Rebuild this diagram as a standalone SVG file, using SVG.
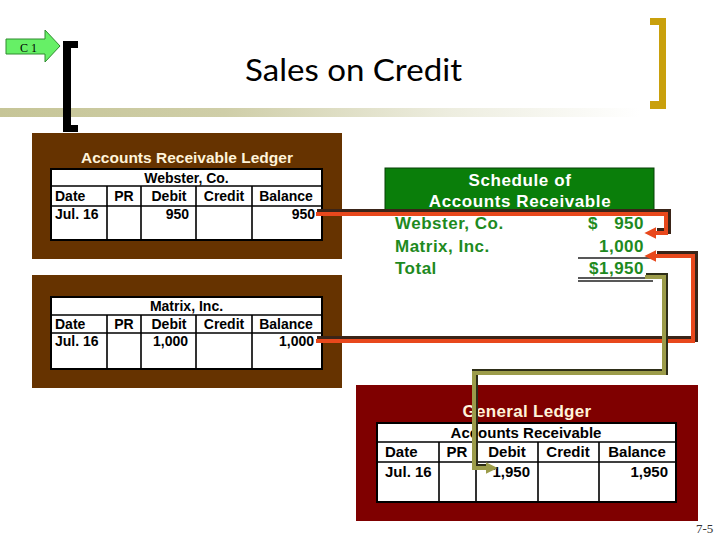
<svg xmlns="http://www.w3.org/2000/svg" width="720" height="540" viewBox="0 0 720 540">
<defs>
<linearGradient id="bar" x1="0" y1="0" x2="1" y2="0">
<stop offset="0" stop-color="#C6C597"/>
<stop offset="0.35" stop-color="#CFCEA8"/>
<stop offset="0.7" stop-color="#EDEDDF"/>
<stop offset="1" stop-color="#FFFFFF"/>
</linearGradient>
<marker id="redHead" viewBox="0 0 10 10" refX="2" refY="5" markerWidth="3" markerHeight="3" orient="auto" markerUnits="strokeWidth">
<path d="M0,0 L10,5 L0,10 z" fill="#E8481C"/>
</marker>
<marker id="oliveHead" viewBox="0 0 10 10" refX="2" refY="5" markerWidth="3" markerHeight="3" orient="auto" markerUnits="strokeWidth">
<path d="M0,0 L10,5 L0,10 z" fill="#9C9C4A"/>
</marker>
<style>
text{font-family:"Liberation Sans",Arial,sans-serif;font-weight:bold}
.tb{font-size:14px;fill:#000}
.gl{font-size:15px;fill:#000}
.cell{fill:#fff;stroke:#000;stroke-width:2}
.ln{stroke:#000;stroke-width:1.6;fill:none}
.hd{fill:#FFF3DA;font-size:15.5px}
.sch{fill:#1E8A1E;font-size:17px;letter-spacing:0.5px}
.schh{fill:#fff;font-size:17px;letter-spacing:0.6px}
.shadow{fill:none;stroke:#3A2418;stroke-width:6}
.red{fill:none;stroke:#E8481C;stroke-width:4}
.olive{fill:none;stroke:#9C9C4A;stroke-width:4}
.oshadow{fill:none;stroke:#2E2E18;stroke-width:6}
</style>
</defs>
<rect width="720" height="540" fill="#fff"/>
<rect x="0" y="108" width="640" height="9" fill="url(#bar)"/>
<g id="c1">
<path d="M6,39 H45 V30 L60,46 L45,62 V54 H6 Z" fill="#66F066" stroke="#2E8B2E" stroke-width="1"/>
<text x="20" y="52" style="font-family:'Liberation Serif',serif;font-weight:normal;font-size:12px;fill:#000">C 1</text>
</g>
<path d="M78,41 H63 V132 H78 V125 H71 V48 H78 Z" fill="#000"/>
<path d="M650,18 H666 V109 H650 V101 H659 V25 H650 Z" fill="#C9A00C"/>
<text x="245" y="81" textLength="217" lengthAdjust="spacingAndGlyphs" style="font-family:Lato,'Open Sans',sans-serif;font-weight:normal;font-size:30px;fill:#000">Sales on Credit</text>
<g id="ledger-webster">
<rect x="32" y="133" width="310" height="126" fill="#663300"/>
<text class="hd" x="187" y="163" text-anchor="middle">Accounts Receivable Ledger</text>
<rect class="cell" x="51" y="169" width="271" height="71"/>
<path class="ln" d="M51,186 H322 M51,206 H322 M107,186 V240 M141,186 V240 M196,186 V240 M252,186 V240"/>
<text class="tb" x="186.5" y="183" text-anchor="middle">Webster, Co.</text>
<text class="tb" x="55" y="201">Date</text>
<text class="tb" x="124" y="201" text-anchor="middle">PR</text>
<text class="tb" x="169" y="201" text-anchor="middle">Debit</text>
<text class="tb" x="224" y="201" text-anchor="middle">Credit</text>
<text class="tb" x="286" y="201" text-anchor="middle">Balance</text>
<text class="tb" x="55" y="219">Jul. 16</text>
<text class="tb" x="189" y="219" text-anchor="end">950</text>
<text class="tb" x="315" y="219" text-anchor="end">950</text>
</g>
<g id="ledger-matrix">
<rect x="32" y="275" width="310" height="113" fill="#663300"/>
<rect class="cell" x="51" y="297" width="271" height="72"/>
<path class="ln" d="M51,315 H322 M51,333 H322 M107,315 V369 M141,315 V369 M196,315 V369 M252,315 V369"/>
<text class="tb" x="186.5" y="311" text-anchor="middle">Matrix, Inc.</text>
<text class="tb" x="55" y="329">Date</text>
<text class="tb" x="124" y="329" text-anchor="middle">PR</text>
<text class="tb" x="169" y="329" text-anchor="middle">Debit</text>
<text class="tb" x="224" y="329" text-anchor="middle">Credit</text>
<text class="tb" x="286" y="329" text-anchor="middle">Balance</text>
<text class="tb" x="55" y="346">Jul. 16</text>
<text class="tb" x="188" y="346" text-anchor="end">1,000</text>
<text class="tb" x="314" y="346" text-anchor="end">1,000</text>
</g>
<g id="schedule">
<rect x="385" y="168" width="269" height="44" fill="#0A7E0A" stroke="#064006" stroke-width="1"/>
<text class="schh" x="520" y="186" text-anchor="middle">Schedule of</text>
<text class="schh" x="520" y="207" text-anchor="middle">Accounts Receivable</text>
<text class="sch" x="395" y="229">Webster, Co.</text>
<text class="sch" x="588" y="229">$</text>
<text class="sch" x="644" y="229" text-anchor="end">950</text>
<text class="sch" x="395" y="252">Matrix, Inc.</text>
<text class="sch" x="644" y="252" text-anchor="end">1,000</text>
<text class="sch" x="395" y="274">Total</text>
<text class="sch" x="644" y="274" text-anchor="end">$1,950</text>
<path d="M578,258 H653 M578,278 H653 M578,281 H653" stroke="#222" stroke-width="1.5" fill="none"/>
</g>
<g id="general-ledger">
<rect x="356" y="385" width="342" height="136" fill="#7F0000"/>
<text class="hd" x="527" y="417" text-anchor="middle" style="font-size:17px;letter-spacing:0.3px">General Ledger</text>
<rect class="cell" x="377" y="423" width="299" height="79"/>
<path class="ln" d="M377,442 H676 M377,462 H676 M439,442 V502 M476,442 V502 M538,442 V502 M599,442 V502"/>
<text class="gl" x="526" y="438" text-anchor="middle">Accounts Receivable</text>
<text class="gl" x="385" y="457">Date</text>
<text class="gl" x="457" y="457" text-anchor="middle">PR</text>
<text class="gl" x="507" y="457" text-anchor="middle">Debit</text>
<text class="gl" x="568" y="457" text-anchor="middle">Credit</text>
<text class="gl" x="637" y="457" text-anchor="middle">Balance</text>
<text class="gl" x="385" y="477">Jul. 16</text>
<text class="gl" x="530" y="477" text-anchor="end">1,950</text>
<text class="gl" x="668" y="477" text-anchor="end">1,950</text>
</g>
<g id="connectors">
<path class="shadow" d="M316,213 H667 V232 H656" transform="translate(1,-1)"/>
<path class="red" d="M316,214 H666 V233 H654" marker-end="url(#redHead)"/>
<path class="shadow" d="M316,340 H694 V255 H656" transform="translate(1,-1)"/>
<path class="red" d="M316,341 H693 V256 H654" marker-end="url(#redHead)"/>
<path class="oshadow" d="M645,277 H664 V373 H474 V468 H486" transform="translate(1,-1)"/>
<path class="olive" d="M645,277 H664 V373 H474 V468 H488" marker-end="url(#oliveHead)"/>
</g>
<text x="696" y="533" style="font-family:'Liberation Serif',serif;font-weight:normal;font-size:13px;fill:#333">7-5</text>
</svg>
